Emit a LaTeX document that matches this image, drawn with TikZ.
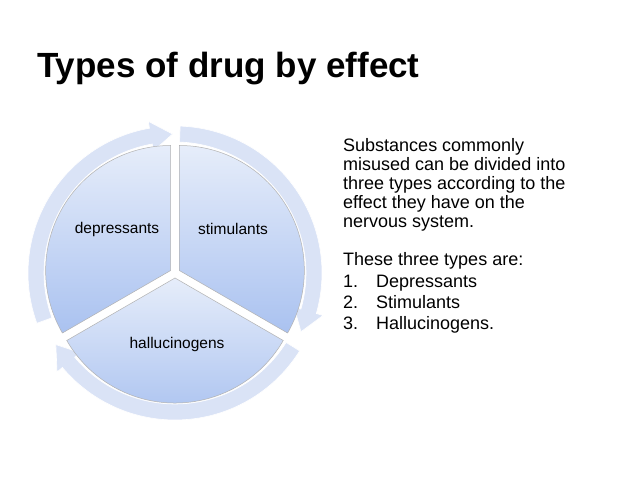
\documentclass[tikz,border=0pt]{standalone}
\usepackage{fontspec}
\setmainfont{Liberation Sans}
\usetikzlibrary{calc}
\definecolor{ringc}{RGB}{218,227,246}
\definecolor{wtop}{RGB}{230,237,250}
\definecolor{wbot}{RGB}{170,194,240}
\begin{document}
\begin{tikzpicture}[x=1pt,y=1pt,
  wedge/.style={draw=gray!60, line width=0.5pt, top color=wtop, bottom color=wbot},
  ring/.style={fill=ringc, draw=white, line width=0.6pt},
  lbl/.style={font=\fontsize{15.5}{18}\selectfont, text=black},
  body/.style={font=\fontsize{18}{20}\selectfont, anchor=base west, inner sep=0pt}]
\useasboundingbox (0,0) rectangle (638,479);
\fill[white] (0,0) rectangle (638,479);
\coordinate (C) at (175,206);
% ring arrows
\foreach \s/\e in {200/100, 88/-16, -32/-140}{
  \path[ring] ($(C)+(\s:147)$) arc[start angle=\s, end angle=\e, radius=147]
    -- ($(C)+(\e:154)$) -- ($(C)+(\e-9:139)$) -- ($(C)+(\e:124)$) -- ($(C)+(\e:131)$)
    arc[start angle=\e, end angle=\s, radius=131] -- cycle;
}
% wedges
\path[wedge] ($(C)+(30:5)$) coordinate (cs) -- ++(90:125) arc[start angle=90, end angle=-30, radius=125] -- cycle;
\path[wedge] ($(C)+(150:5)$) coordinate (cd) -- ++(210:125) arc[start angle=210, end angle=90, radius=125] -- cycle;
\path[wedge] ($(C)+(270:5)$) coordinate (ch) -- ++(330:125) arc[start angle=330, end angle=210, radius=125] -- cycle;
\node[lbl] (dep) at (117,250) {depressants};
\node[lbl] (sti) at (233,250) {stimulants};
\node[lbl] (hal) at (177,135) {hallucinogens};
\node[font=\fontsize{35}{40}\selectfont\bfseries, anchor=base west, inner sep=0pt] (title) at (37,401) {Types of drug by effect};
\node[body] (t1) at (343,327) {Substances commonly};
\node[body] (t2) at (343,308) {misused can be divided into};
\node[body] (t3) at (343,289) {three types according to the};
\node[body] (t4) at (343,270) {effect they have on the};
\node[body] (t5) at (343,251) {nervous system.};
\node[body] (t6) at (343,213) {These three types are:};
\node[body] (n1) at (343,191) {1.};
\node[body] (n2) at (343,170) {2.};
\node[body] (n3) at (343,149) {3.};
\node[body] (l1) at (376,191) {Depressants};
\node[body] (l2) at (376,170) {Stimulants};
\node[body] (l3) at (376,149) {Hallucinogens.};
\end{tikzpicture}
\end{document}
